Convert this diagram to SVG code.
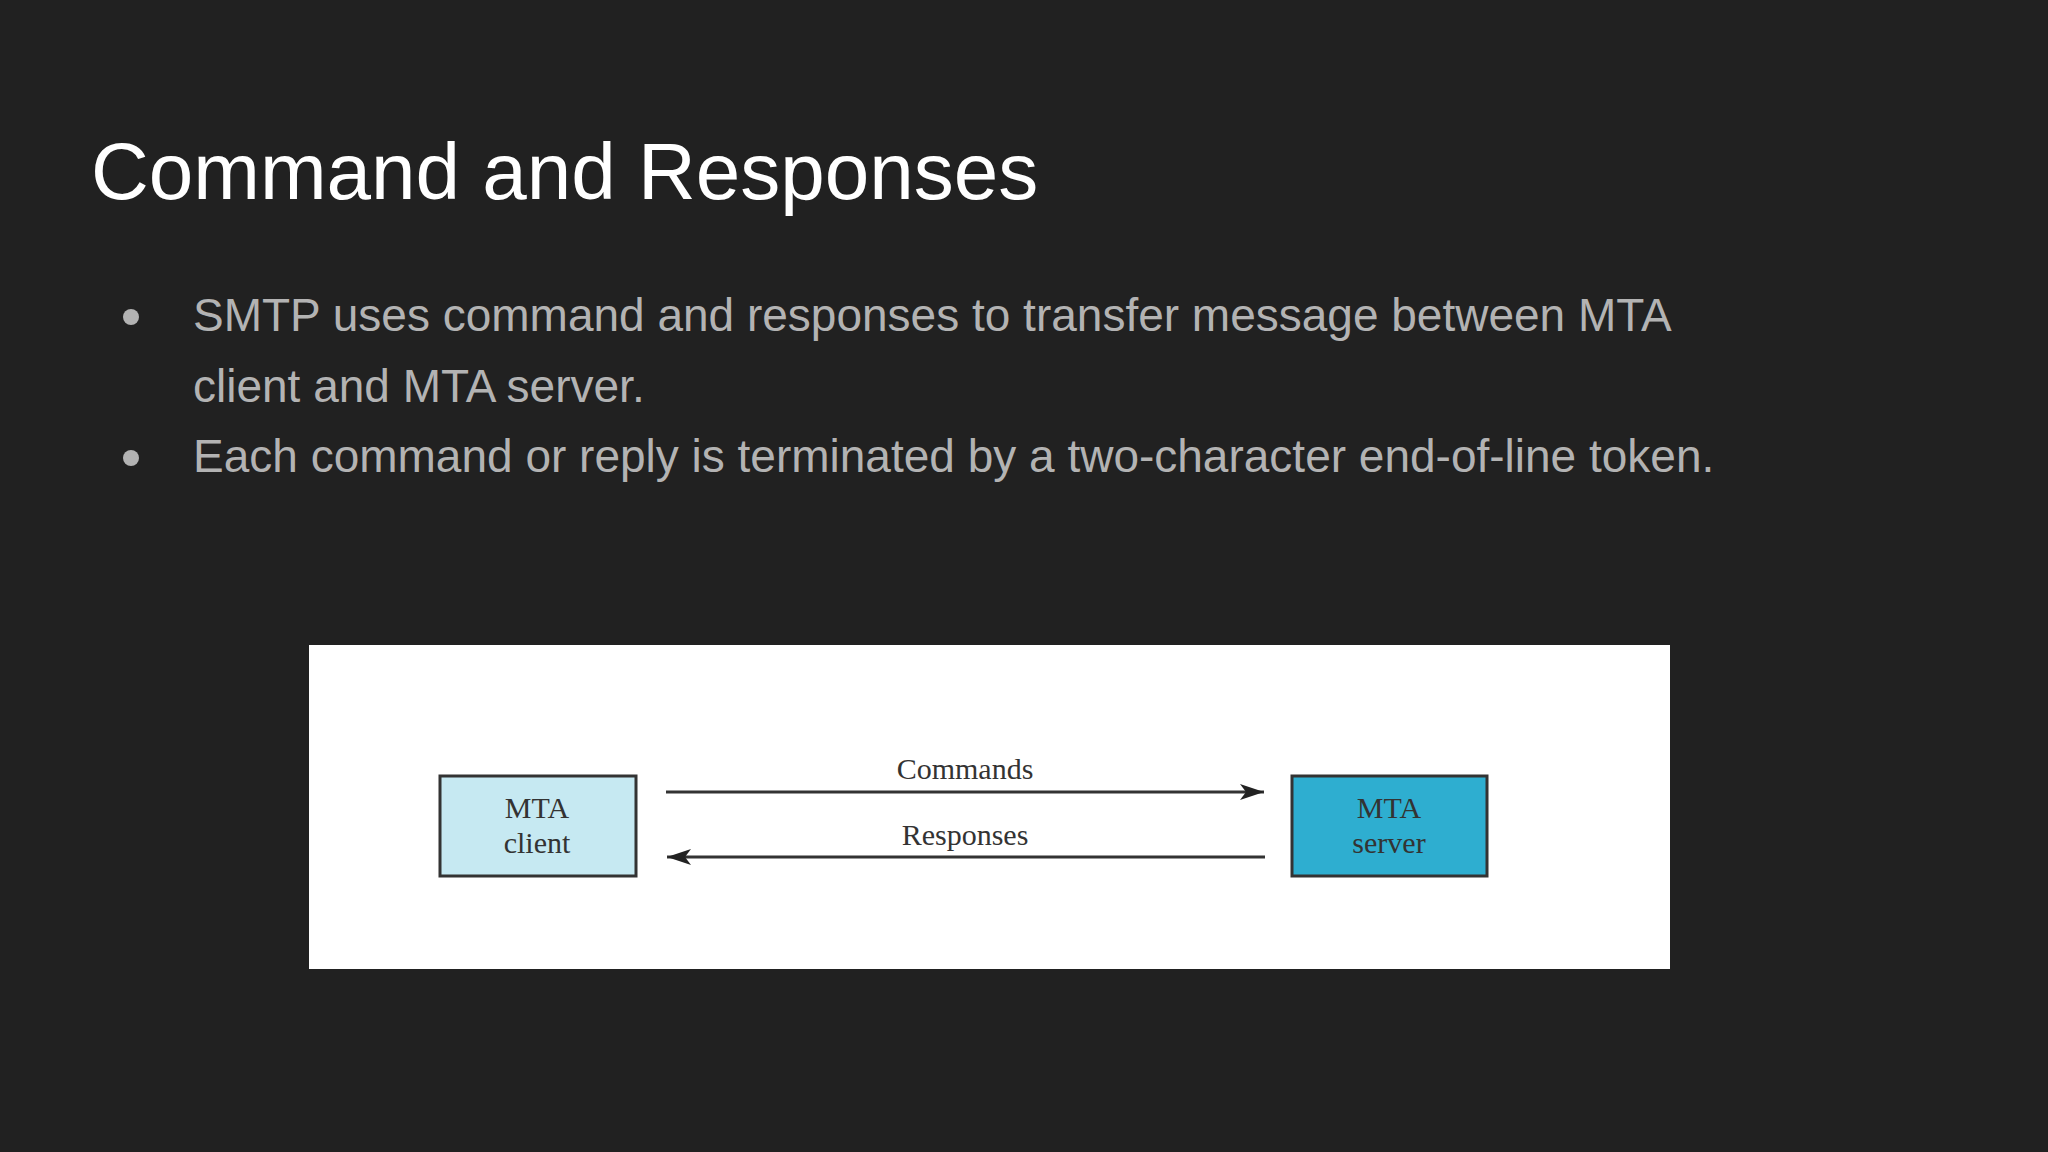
<svg xmlns="http://www.w3.org/2000/svg" width="2048" height="1152" viewBox="0 0 2048 1152">
<defs>
<style>
.b{font-family:"Liberation Sans",Arial,sans-serif;font-size:46px;fill:#b3b3b3}
.s{font-family:"Liberation Serif","Times New Roman",serif;font-size:30px;fill:#333;text-anchor:middle}
.box{stroke:#333;stroke-width:3}
.ln{stroke:#333;stroke-width:3;fill:none}
</style>
<marker id="ah" markerWidth="10" markerHeight="8" refX="10" refY="4" orient="auto" markerUnits="userSpaceOnUse" viewBox="0 0 10 8"><path d="M0,0 L10,4 L0,8 Z" fill="#222"/></marker>
<marker id="ah2" markerWidth="24" markerHeight="16" refX="24" refY="8" orient="auto" markerUnits="userSpaceOnUse" viewBox="0 0 24 16"><path d="M0,0 L24,8 L0,16 L6,8 Z" fill="#222"/></marker>
</defs>
<rect width="2048" height="1152" fill="#212121"/>
<text x="91" y="199" font-family="Liberation Sans,Arial,sans-serif" font-size="80" fill="#ffffff">Command and Responses</text>
<circle cx="131" cy="317" r="8" fill="#b3b3b3"/>
<circle cx="131" cy="458" r="8" fill="#b3b3b3"/>
<text class="b" x="193" y="331">SMTP uses command and responses to transfer message between MTA</text>
<text class="b" x="193" y="402">client and MTA server.</text>
<text class="b" x="193" y="472">Each command or reply is terminated by a two-character end-of-line token.</text>
<rect x="309" y="645" width="1361" height="324" fill="#ffffff"/>
<g id="client"><rect class="box" x="440" y="776" width="196" height="100" fill="#c6e9f2"/><text class="s" x="537" y="818">MTA</text><text class="s" x="537" y="853">client</text></g>
<g id="server"><rect class="box" x="1292" y="776" width="195" height="100" fill="#2eaed0"/><text class="s" x="1389" y="818">MTA</text><text class="s" x="1389" y="853">server</text></g>
<g id="connectors">
<line class="ln" x1="666" y1="792" x2="1264" y2="792" marker-end="url(#ah2)"/>
<line class="ln" x1="1265" y1="857" x2="667" y2="857" marker-end="url(#ah2)"/>
<text class="s" x="965" y="779">Commands</text>
<text class="s" x="965" y="845">Responses</text>
</g>
</svg>
